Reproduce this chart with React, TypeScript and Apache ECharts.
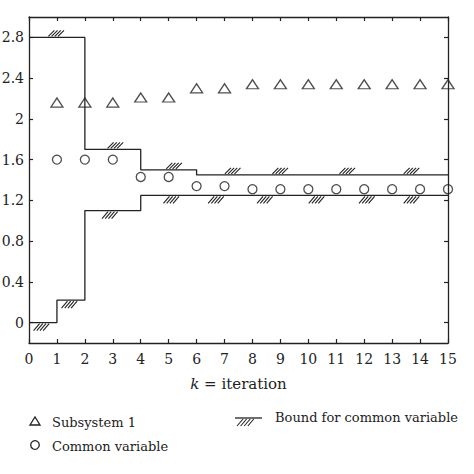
import * as echarts from 'echarts'
import { useEffect, useRef } from 'react'

// iteration k for the marker series
const iterations = [1, 2, 3, 4, 5, 6, 7, 8, 9, 10, 11, 12, 13, 14, 15]
const subsystem1 = [2.16, 2.16, 2.16, 2.21, 2.21, 2.3, 2.3, 2.34, 2.34, 2.34, 2.34, 2.34, 2.34, 2.34, 2.34]
const commonVariable = [1.6, 1.6, 1.6, 1.43, 1.43, 1.34, 1.34, 1.31, 1.31, 1.31, 1.31, 1.31, 1.31, 1.31, 1.31]

// step bounds: [k where the level starts, level]
const upperBound = [[0, 2.8], [2, 1.7], [4, 1.5], [6, 1.45], [15, 1.45]]
const lowerBound = [[0, 0], [1, 0.22], [2, 1.1], [4, 1.25], [15, 1.25]]

// hatch marks sit on the bound lines
const upperHatches = [[0.98, 2.8], [3.1, 1.7], [5.2, 1.5], [7.3, 1.45], [9.0, 1.45], [11.4, 1.45], [13.7, 1.45]]
const lowerHatches = [[0.45, 0], [1.45, 0.22], [2.9, 1.1], [5.1, 1.25], [6.7, 1.25], [8.45, 1.25], [10.3, 1.25], [12.1, 1.25], [13.7, 1.25]]

const yTicks = [0, 0.4, 0.8, 1.2, 1.6, 2, 2.4, 2.8]

const ink = '#222'
const font = 'DejaVu Serif'

function hatch(side: 'above' | 'below') {
  return (_params: any, api: any) => {
    const [cx, cy] = api.coord([api.value(0), api.value(1)])
    const children = []
    for (let i = 0; i < 4; i++) {
      const x0 = cx - 8 + i * 3.2
      const shape = side === 'above'
        ? { x1: x0, y1: cy - 1, x2: x0 + 6, y2: cy - 7 }
        : { x1: x0, y1: cy + 8, x2: x0 + 6, y2: cy + 1 }
      children.push({ type: 'line', shape, style: { stroke: ink, lineWidth: 1.1 } })
    }
    return { type: 'group', children }
  }
}

function legendHatch(x: number, y: number) {
  const items: any[] = [{ type: 'line', shape: { x1: x, y1: y, x2: x + 27, y2: y }, style: { stroke: ink, lineWidth: 1.3 } }]
  for (let i = 0; i < 4; i++) {
    const x0 = x + 2 + i * 3.6
    items.push({ type: 'line', shape: { x1: x0, y1: y + 8, x2: x0 + 6, y2: y + 1 }, style: { stroke: ink, lineWidth: 1.1 } })
  }
  return items
}

function buildOption() {
  const axisLine = { show: true, onZero: false, lineStyle: { color: ink, width: 1.3 } }
  const axisTick = { show: true, inside: true, length: 4, lineStyle: { color: ink, width: 1.2 } }
  const labelStyle = { color: ink, fontFamily: font, fontSize: 14 }
  const legendText = { fill: ink, fontFamily: font, fontSize: 13 }
  return {
    animation: false,
    backgroundColor: '#fff',
    textStyle: { fontFamily: font },
    grid: { left: 29, right: 26, top: 17, bottom: 131, outerBoundsMode: 'none' },
    xAxis: [
      {
        type: 'value',
        min: 0,
        max: 15,
        interval: 1,
        axisLine,
        axisTick,
        splitLine: { show: false },
        axisLabel: { ...labelStyle, margin: 9 },
        name: '{i|k} = iteration',
        nameLocation: 'middle',
        nameGap: 33,
        nameTextStyle: {
          ...labelStyle,
          fontSize: 15,
          rich: { i: { fontStyle: 'italic', fontFamily: font, fontSize: 15, color: ink } },
        },
      },
      {
        type: 'value',
        position: 'top',
        min: 0,
        max: 15,
        interval: 1,
        axisLine,
        axisTick,
        splitLine: { show: false },
        axisLabel: { show: false },
      },
    ],
    yAxis: [
      {
        type: 'value',
        min: -0.2,
        max: 3,
        axisLine,
        axisTick: { ...axisTick, customValues: yTicks },
        splitLine: { show: false },
        axisLabel: { ...labelStyle, margin: 5, customValues: yTicks },
      },
      {
        type: 'value',
        position: 'right',
        min: -0.2,
        max: 3,
        axisLine,
        axisTick: { ...axisTick, customValues: yTicks },
        splitLine: { show: false },
        axisLabel: { show: false },
      },
    ],
    series: [
      {
        name: 'Upper bound',
        type: 'line',
        step: 'end',
        data: upperBound,
        showSymbol: false,
        lineStyle: { color: ink, width: 1.3 },
      },
      {
        name: 'Lower bound',
        type: 'line',
        step: 'end',
        data: lowerBound,
        showSymbol: false,
        lineStyle: { color: ink, width: 1.3 },
      },
      {
        name: 'Upper hatch',
        type: 'custom',
        renderItem: hatch('above'),
        data: upperHatches,
        clip: false,
      },
      {
        name: 'Lower hatch',
        type: 'custom',
        renderItem: hatch('below'),
        data: lowerHatches,
        clip: false,
      },
      {
        name: 'Subsystem 1',
        type: 'scatter',
        symbol: 'triangle',
        symbolSize: [12, 9],
        data: iterations.map((k, i) => [k, subsystem1[i]]),
        itemStyle: { color: 'rgba(0,0,0,0)', borderColor: ink, borderWidth: 1.3 },
        z: 5,
      },
      {
        name: 'Common variable',
        type: 'scatter',
        symbol: 'circle',
        symbolSize: 9,
        data: iterations.map((k, i) => [k, commonVariable[i]]),
        itemStyle: { color: 'rgba(0,0,0,0)', borderColor: ink, borderWidth: 1.3 },
        z: 5,
      },
    ],
    graphic: [
      { type: 'polygon', shape: { points: [[30, 425], [40, 425], [35, 417]] }, style: { fill: 'none', stroke: ink, lineWidth: 1.3 } },
      { type: 'text', x: 52, y: 422, style: { ...legendText, text: 'Subsystem 1', verticalAlign: 'middle' } },
      { type: 'circle', shape: { cx: 35, cy: 445, r: 4.3 }, style: { fill: 'none', stroke: ink, lineWidth: 1.3 } },
      { type: 'text', x: 52, y: 446, style: { ...legendText, text: 'Common variable', verticalAlign: 'middle' } },
      ...legendHatch(235, 418),
      { type: 'text', x: 275, y: 417, style: { ...legendText, text: 'Bound for common variable', verticalAlign: 'middle' } },
    ],
  }
}

export default function App() {
  const ref = useRef<HTMLDivElement>(null)

  useEffect(() => {
    const el = ref.current
    if (!el) return
    const chart = echarts.init(el, null, { renderer: 'svg' })
    chart.setOption(buildOption())
    return () => chart.dispose()
  }, [])

  return <div ref={ref} style={{ position: 'fixed', left: 0, top: 0, width: 474, height: 474 }} />
}
